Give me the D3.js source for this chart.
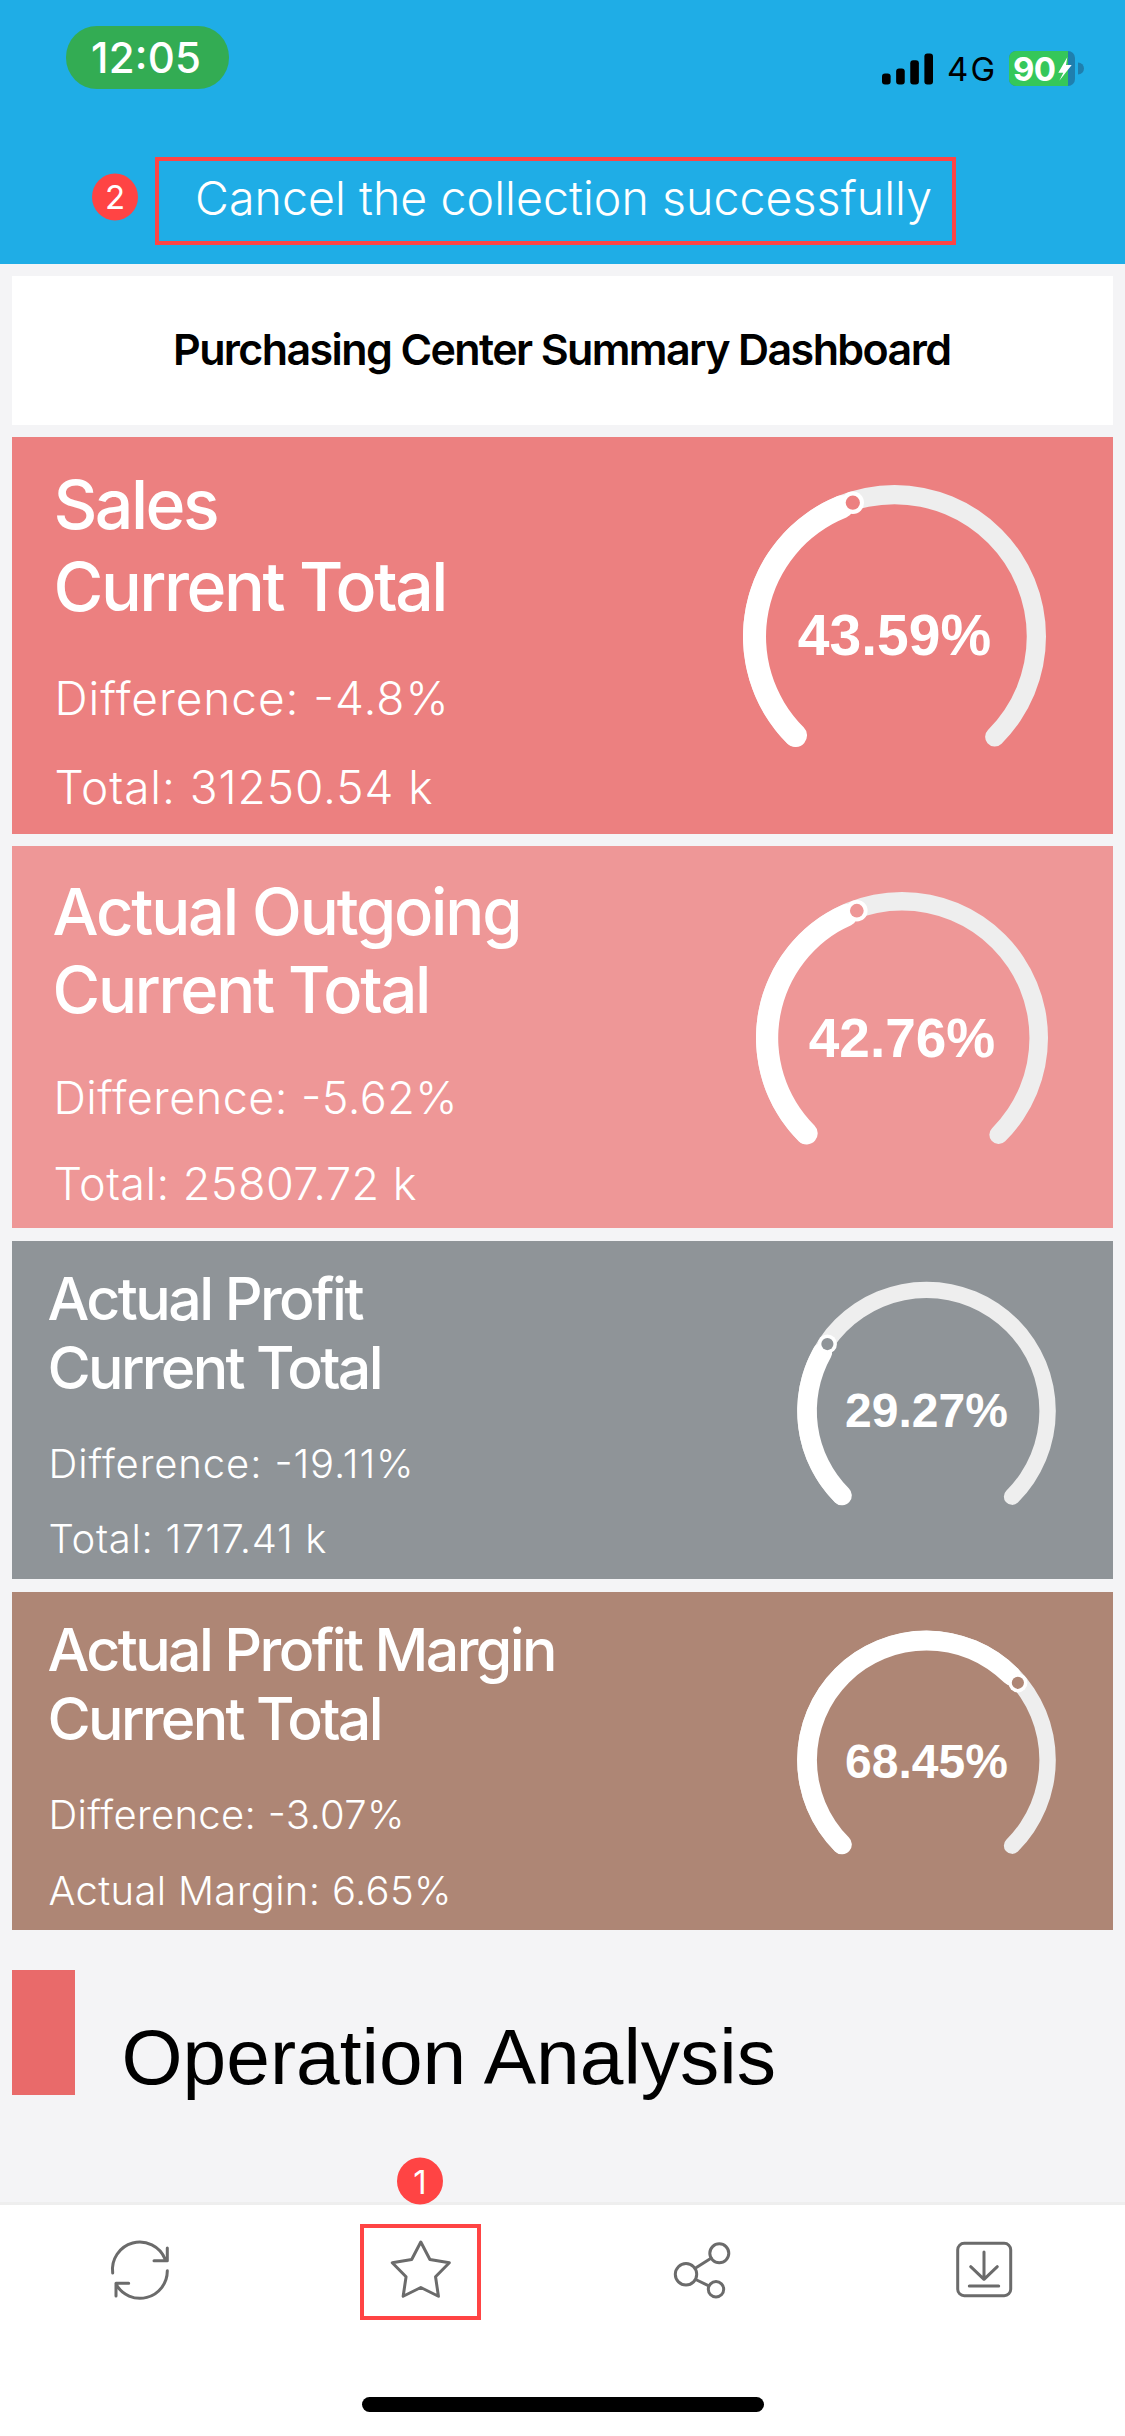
<!DOCTYPE html>
<html>
<head>
<meta charset="utf-8">
<script src="https://d3js.org/d3.v7.min.js"></script>
<style>
  html, body { margin: 0; padding: 0; background: #f4f4f6; }
  svg { display: block; }
  text { font-family: Inter, sans-serif; }
</style>
</head>
<body>
<script>
// values
const titles = [["Sales", "Current Total"], ["Actual Outgoing", "Current Total"], ["Actual Profit", "Current Total"], ["Actual Profit Margin", "Current Total"]];
const differences = ["Difference: -4.8%", "Difference: -5.62%", "Difference: -19.11%", "Difference: -3.07%"];
const totals = ["Total: 31250.54 k", "Total: 25807.72 k", "Total: 1717.41 k", "Actual Margin: 6.65%"];
const rates = [43.59, 42.76, 29.27, 68.45];

const W = 1125, H = 2436;
const white = "#fff", track = "#eeeeee", red = "#ff4444", iconGrey = "#6b6b6b";

// card geometry, in page pixels
const cardFill = ["#ec8080", "#ee9797", "#8f9498", "#ae8675"];
const cardTop = [437, 846, 1241, 1592];
const cardBottom = [834, 1228, 1579, 1930];
const textX = [53.5, 52.5, 47.5, 47.5];
const titleSize = [68, 65, 59, 59];
const bodySize = [46, 45, 40, 40];
const titleBase = [[529, 611], [935, 1013], [1320, 1389], [1671, 1740]];
const bodyBase = [[715, 804], [1114, 1200], [1478, 1553], [1829, 1905]];
const titleWidth = [[166, 395], [470, 379], [317, 336], [510, 336]];
const bodyWidth = [[394, 378], [404, 363], [365, 278], [356, 403]];
const gaugeX = [894.5, 902, 926.5, 926.5];
const gaugeY = [636.5, 1038, 1411, 1760];
const gaugeR = [151.5, 146, 129.3, 129.3];
const gaugeBase = [655, 1057, 1427, 1778];
const gaugeSize = [57, 55, 48, 48];

const svg = d3.select("body").append("svg")
  .attr("width", W)
  .attr("height", H)
  .attr("viewBox", `0 0 ${W} ${H}`);

function addText(parent, str, x, y, size, weight, fill, width, anchor) {
  const t = parent.append("text")
    .attr("x", x)
    .attr("y", y)
    .attr("font-size", size)
    .attr("font-weight", weight)
    .attr("fill", fill)
    .attr("text-anchor", anchor || "start")
    .text(str);
  if (width) t.attr("textLength", width).attr("lengthAdjust", "spacing");
  return t;
}

svg.append("rect").attr("width", W).attr("height", H).attr("fill", "#f4f4f6");

// header
svg.append("rect").attr("width", W).attr("height", 264).attr("fill", "#1fade6");
svg.append("rect").attr("x", 66).attr("y", 26).attr("width", 163).attr("height", 63).attr("rx", 31).attr("fill", "#33ac53");
addText(svg, "12:05", 91, 72.5, 42, 500, white, 110);

// status bar
const signal = [11, 16, 24.3, 31];
const signalX = d3.scaleBand().domain(d3.range(4)).range([882, 933]).paddingInner(0.39);
svg.selectAll(".signal").data(signal).enter().append("rect")
  .attr("class", "signal")
  .attr("x", (d, i) => signalX(i))
  .attr("y", d => 84.5 - d)
  .attr("width", signalX.bandwidth())
  .attr("height", d => d)
  .attr("rx", 3)
  .attr("fill", "#000");
addText(svg, "4G", 947, 80.7, 33, 400, "#000", 48);
svg.append("rect").attr("x", 1009).attr("y", 51).attr("width", 66).attr("height", 35).attr("rx", 7).attr("fill", "#1f7fae");
svg.append("path").attr("d", "M1016,51H1068V86H1016a7,7 0 0 1 -7,-7V58a7,7 0 0 1 7,-7Z").attr("fill", "#35c75a");
svg.append("path").attr("d", "M1078,62.5a6,6 0 0 1 0,12Z").attr("fill", "#1f7fae");
addText(svg, "90", 1013, 80.7, 33, 700, white, 43);
svg.append("path").attr("d", "M1067.3,57.3L1058.3,72.7H1063.3L1059.3,80.7L1071.7,65H1066Z").attr("fill", white);

// toast and callout 2
svg.append("rect").attr("x", 157).attr("y", 159).attr("width", 797).attr("height", 84).attr("fill", "none").attr("stroke", red).attr("stroke-width", 4);
svg.append("ellipse").attr("cx", 115).attr("cy", 197).attr("rx", 23).attr("ry", 23.5).attr("fill", red);
addText(svg, "2", 115, 209, 33, 400, white, null, "middle");
addText(svg, "Cancel the collection successfully", 195, 214.5, 46.5, 300, white, 737);

// title card
svg.append("rect").attr("x", 12).attr("y", 276).attr("width", 1101).attr("height", 149).attr("fill", white);
addText(svg, "Purchasing Center Summary Dashboard", 173, 365, 43, 600, "#000", 779);

// gauge: 0..100 maps onto a 270 degree sweep
const angle = d3.scaleLinear().domain([0, 100]).range([-135 * Math.PI / 180, 135 * Math.PI / 180]);

const cards = svg.selectAll(".card").data(rates).enter().append("g").attr("class", "card");

cards.each(function (rate, i) {
  const g = d3.select(this);
  g.append("rect")
    .attr("x", 12).attr("y", cardTop[i])
    .attr("width", 1101).attr("height", cardBottom[i] - cardTop[i])
    .attr("fill", cardFill[i]);

  titles[i].forEach((line, k) => addText(g, line, textX[i], titleBase[i][k], titleSize[i], 500, white, titleWidth[i][k]));
  addText(g, differences[i], textX[i] + 1, bodyBase[i][0], bodySize[i], 300, white, bodyWidth[i][0]);
  addText(g, totals[i], textX[i] + 1, bodyBase[i][1], bodySize[i], 300, white, bodyWidth[i][1]);

  const R = gaugeR[i];
  const gauge = g.append("g").attr("transform", `translate(${gaugeX[i]},${gaugeY[i]})`);
  const trackArc = d3.arc().innerRadius(R * 0.873).outerRadius(R).cornerRadius(R * 0.064);
  const valueArc = d3.arc().innerRadius(R * 0.848).outerRadius(R).cornerRadius(R * 0.076);
  // round caps stick out past the end angles, so the arcs are run a little longer
  const trackCap = 0.064 / 0.936, valueCap = 0.076 / 0.924;
  gauge.append("path")
    .attr("d", trackArc({ startAngle: angle(0) - trackCap, endAngle: angle(100) + trackCap }))
    .attr("fill", track);
  gauge.append("path")
    .attr("d", valueArc({ startAngle: angle(0) - valueCap, endAngle: angle(rate) }))
    .attr("fill", white);

  const dotR = R * 0.925;
  const dx = Math.sin(angle(rate)) * dotR, dy = -Math.cos(angle(rate)) * dotR;
  gauge.append("circle").attr("cx", dx).attr("cy", dy).attr("r", R * 0.074).attr("fill", white);
  gauge.append("circle").attr("cx", dx).attr("cy", dy).attr("r", R * 0.047).attr("fill", cardFill[i]);

  addText(g, rate.toFixed(2) + "%", gaugeX[i], gaugeBase[i], gaugeSize[i], 700, white, null, "middle")
    .style("font-family", "'Liberation Sans', Arial, sans-serif");
});

// section heading
svg.append("rect").attr("x", 12).attr("y", 1970).attr("width", 63).attr("height", 125).attr("fill", "#e96a6a");
addText(svg, "Operation Analysis", 121.5, 2083.5, 78.5, 400, "#000", null)
  .style("font-family", "'Liberation Sans', Arial, sans-serif");

// bottom toolbar
svg.append("rect").attr("x", 0).attr("y", 2205).attr("width", W).attr("height", H - 2205).attr("fill", white);
svg.append("rect").attr("x", 0).attr("y", 2202).attr("width", W).attr("height", 3).attr("fill", "#eeeeee");

const icons = svg.append("g")
  .attr("fill", "none")
  .attr("stroke", iconGrey)
  .attr("stroke-width", 3)
  .attr("stroke-linecap", "round")
  .attr("stroke-linejoin", "round");

// refresh
icons.append("path").attr("d", "M112.7,2273A27.3,27.3 0 0 1 165,2259M167.3,2248V2260.7H154");
icons.append("path").attr("d", "M167.3,2270.7A27.3,27.3 0 0 1 116,2284M116,2296V2283.3H128.7");

// star
const starPts = d3.range(10).map(i => [i * Math.PI / 5, i % 2 ? 15.5 : 30]);
icons.append("path")
  .attr("transform", "translate(420.8,2272)")
  .attr("d", d3.lineRadial().curve(d3.curveLinearClosed)(starPts));

// share
icons.append("circle").attr("cx", 686).attr("cy", 2274.3).attr("r", 10.7);
icons.append("circle").attr("cx", 719.3).attr("cy", 2253.3).attr("r", 9.5);
icons.append("circle").attr("cx", 716).attr("cy", 2289.3).attr("r", 7.7);
icons.append("path").attr("d", "M696,2267.7L711,2258.3M696.7,2280L708.3,2285.7");

// download
icons.append("rect").attr("x", 957.7).attr("y", 2243.3).attr("width", 53).attr("height", 52.4).attr("rx", 6.5);
icons.append("path").attr("d", "M984,2252V2279.3M970.7,2266.7L984,2279.3L997.3,2266.7M969.3,2286H998.7");

// callout 1
svg.append("rect").attr("x", 362).attr("y", 2226).attr("width", 117).attr("height", 92).attr("fill", "none").attr("stroke", red).attr("stroke-width", 4);
svg.append("ellipse").attr("cx", 420).attr("cy", 2181).attr("rx", 23).attr("ry", 23.5).attr("fill", red);
addText(svg, "1", 420, 2194, 33, 400, white, null, "middle");

// home indicator
svg.append("rect").attr("x", 362).attr("y", 2397).attr("width", 402).attr("height", 15).attr("rx", 7.5).attr("fill", "#000");
</script>
</body>
</html>
